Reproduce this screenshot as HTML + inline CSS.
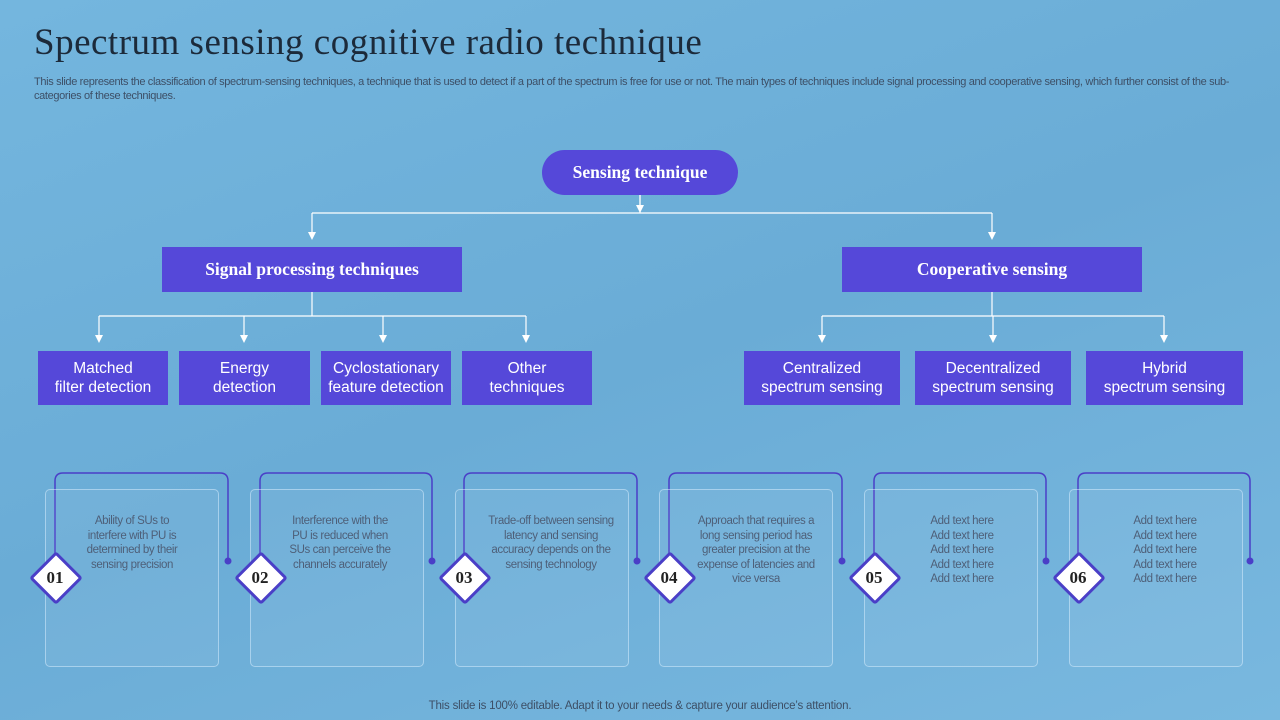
<html><head><style>
body{margin:0;width:1280px;height:720px;overflow:hidden;background:linear-gradient(160deg,#74b6de 0%,#6aacd6 50%,#79b8df 100%);font-family:"Liberation Sans",sans-serif;position:relative}
.a{position:absolute}
.t{left:34px;top:21px;font-family:"Liberation Serif",serif;font-size:37px;color:#1c2a3a;letter-spacing:0.5px}
.s{left:34px;top:75px;font-size:11px;color:#3d4f66;line-height:14px;width:1200px;letter-spacing:-0.35px}
.b{position:absolute;background:#5548d9;color:#fff;display:flex;align-items:center;justify-content:center;text-align:center}
.h{font-family:"Liberation Serif",serif;font-weight:bold;font-size:17.5px}
.m{font-size:15.5px;line-height:19px}
.c{position:absolute;width:172px;height:176px;top:489px;border:1px solid rgba(220,240,255,.5);border-radius:5px;background:rgba(255,255,255,.06)}
.ct{position:absolute;top:514px;width:124px;text-align:center;font-size:11.5px;line-height:14.5px;color:#4e5f78;letter-spacing:-0.4px}
.d{position:absolute;width:32px;height:32px;background:#fff;border:3px solid #4a3fc7;transform:rotate(45deg);top:559px;border-radius:3px}
.n{position:absolute;top:568px;width:40px;text-align:center;font-family:"Liberation Serif",serif;font-weight:bold;font-size:17px;color:#222}
.f{left:0;width:1280px;top:700px;text-align:center;font-size:11.5px;color:#3d4f66;letter-spacing:-0.2px}
</style></head><body>
<div class="a t">Spectrum sensing cognitive radio technique</div>
<div class="a s">This slide represents the classification of spectrum-sensing techniques, a technique that is used to detect if a part of the spectrum is free for use or not. The main types of techniques include signal processing and cooperative sensing, which further consist of the sub-categories of these techniques.</div>
<svg class="a" style="left:0;top:0" width="1280" height="720">
<g stroke="#fff" stroke-width="1.2" fill="none">
<path d="M640 195V213M312 213H992M312 292V316M99 316H526M992 292V316M822 316H1164"/>
<path d="M640 195V205M312 213V232M992 213V232M99 316V335M244 316V335M383 316V335M526 316V335M822 316V335M993 316V335M1164 316V335"/>
</g>
<g fill="#fff">
<path d="M636 205h8l-4 8z"/>
<path d="M308 232h8l-4 8zM988 232h8l-4 8z"/>
<path d="M95 335h8l-4 8zM240 335h8l-4 8zM379 335h8l-4 8zM522 335h8l-4 8zM818 335h8l-4 8zM989 335h8l-4 8zM1160 335h8l-4 8z"/>
</g>
<g stroke="#4a3fc7" stroke-width="1.5" fill="none">
<path d="M55 555V481q0-8 8-8H220q8 0 8 8V561"/>
<path d="M260 555V481q0-8 8-8H424q8 0 8 8V561"/>
<path d="M464 555V481q0-8 8-8H629q8 0 8 8V561"/>
<path d="M669 555V481q0-8 8-8H834q8 0 8 8V561"/>
<path d="M874 555V481q0-8 8-8H1038q8 0 8 8V561"/>
<path d="M1078 555V481q0-8 8-8H1242q8 0 8 8V561"/>
</g>
<g fill="#4a3fc7"><circle cx="228" cy="561" r="3.5"/><circle cx="432" cy="561" r="3.5"/><circle cx="637" cy="561" r="3.5"/><circle cx="842" cy="561" r="3.5"/><circle cx="1046" cy="561" r="3.5"/><circle cx="1250" cy="561" r="3.5"/></g>
</svg>
<div class="b h" style="left:542px;top:150px;width:196px;height:45px;border-radius:23px">Sensing technique</div>
<div class="b h" style="left:162px;top:247px;width:300px;height:45px">Signal processing techniques</div>
<div class="b h" style="left:842px;top:247px;width:300px;height:45px">Cooperative sensing</div>
<div class="b m" style="left:38px;top:351px;width:130px;height:54px">Matched<br>filter detection</div>
<div class="b m" style="left:179px;top:351px;width:131px;height:54px">Energy<br>detection</div>
<div class="b m" style="left:321px;top:351px;width:130px;height:54px">Cyclostationary<br>feature detection</div>
<div class="b m" style="left:462px;top:351px;width:130px;height:54px">Other<br>techniques</div>
<div class="b m" style="left:744px;top:351px;width:156px;height:54px">Centralized<br>spectrum sensing</div>
<div class="b m" style="left:915px;top:351px;width:156px;height:54px">Decentralized<br>spectrum sensing</div>
<div class="b m" style="left:1086px;top:351px;width:157px;height:54px">Hybrid<br>spectrum sensing</div>

<div class="c" style="left:45px"></div><div class="c" style="left:250px"></div><div class="c" style="left:455px"></div><div class="c" style="left:659px"></div><div class="c" style="left:864px"></div><div class="c" style="left:1069px"></div>
<div class="ct" style="left:82px;width:100px">Ability of SUs to interfere with PU is determined by their sensing precision</div>
<div class="ct" style="left:285px;width:110px">Interference with the PU is reduced when SUs can perceive the channels accurately</div>
<div class="ct" style="left:488px;width:126px">Trade-off between sensing latency and sensing accuracy depends on the sensing technology</div>
<div class="ct" style="left:692px;width:128px">Approach that requires a long sensing period has greater precision at the expense of latencies and vice versa</div>
<div class="ct" style="left:900px">Add text here<br>Add text here<br>Add text here<br>Add text here<br>Add text here</div>
<div class="ct" style="left:1103px">Add text here<br>Add text here<br>Add text here<br>Add text here<br>Add text here</div>

<div class="d" style="left:37px"></div><div class="n" style="left:35px">01</div>
<div class="d" style="left:242px"></div><div class="n" style="left:240px">02</div>
<div class="d" style="left:446px"></div><div class="n" style="left:444px">03</div>
<div class="d" style="left:651px"></div><div class="n" style="left:649px">04</div>
<div class="d" style="left:856px"></div><div class="n" style="left:854px">05</div>
<div class="d" style="left:1060px"></div><div class="n" style="left:1058px">06</div>
<div class="a f">This slide is 100% editable. Adapt it to your needs &amp; capture your audience’s attention.</div>
</body></html>
